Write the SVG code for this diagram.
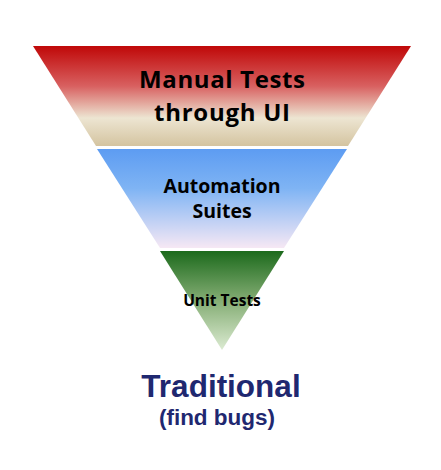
<svg xmlns="http://www.w3.org/2000/svg" width="441" height="470" viewBox="0 0 441 470">
<defs>
<linearGradient id="gRed" x1="0" y1="0" x2="0" y2="1">
<stop offset="0" stop-color="#c00808"/>
<stop offset="0.4" stop-color="#d86060"/>
<stop offset="0.72" stop-color="#ede5d2"/>
<stop offset="1" stop-color="#d4c4a0"/>
</linearGradient>
<linearGradient id="gBlue" x1="0" y1="0" x2="0" y2="1">
<stop offset="0" stop-color="#5d9cf2"/>
<stop offset="0.4" stop-color="#7fb4f4"/>
<stop offset="1" stop-color="#f6e8f4"/>
</linearGradient>
<linearGradient id="gGreen" x1="0" y1="0" x2="0" y2="1">
<stop offset="0" stop-color="#1c6a1c"/>
<stop offset="0.5" stop-color="#84ad74"/>
<stop offset="1" stop-color="#dcebd2"/>
</linearGradient>
</defs>
<style>
.lbl{font-family:"Open Sans","DejaVu Sans",sans-serif;font-weight:bold;fill:#000;text-anchor:middle}
.cap{font-family:"Liberation Sans",Arial,sans-serif;font-weight:bold;fill:#1f2870;text-anchor:middle}
</style>
<rect width="441" height="470" fill="#fff"/>
<g id="manual">
<polygon points="33,46 411,46 348,146 96,146" fill="url(#gRed)"/>
<text class="lbl" x="222" y="88" font-size="24" textLength="166" lengthAdjust="spacing">Manual Tests</text>
<text class="lbl" x="222" y="121" font-size="24" textLength="136" lengthAdjust="spacing">through UI</text>
</g>
<g id="automation">
<polygon points="97,149 347,149 284,248 160,248" fill="url(#gBlue)"/>
<text class="lbl" x="222" y="193" font-size="19.5">Automation</text>
<text class="lbl" x="222" y="218" font-size="19.5">Suites</text>
</g>
<g id="unit">
<polygon points="160,251 284,251 222,350" fill="url(#gGreen)"/>
<text class="lbl" x="222" y="306" font-size="15.5">Unit Tests</text>
</g>
<g id="caption">
<text class="cap" x="221" y="397" font-size="31.5">Traditional</text>
<text class="cap" x="217" y="425" font-size="22.5">(find bugs)</text>
</g>
<g id="connectors"/>
</svg>
